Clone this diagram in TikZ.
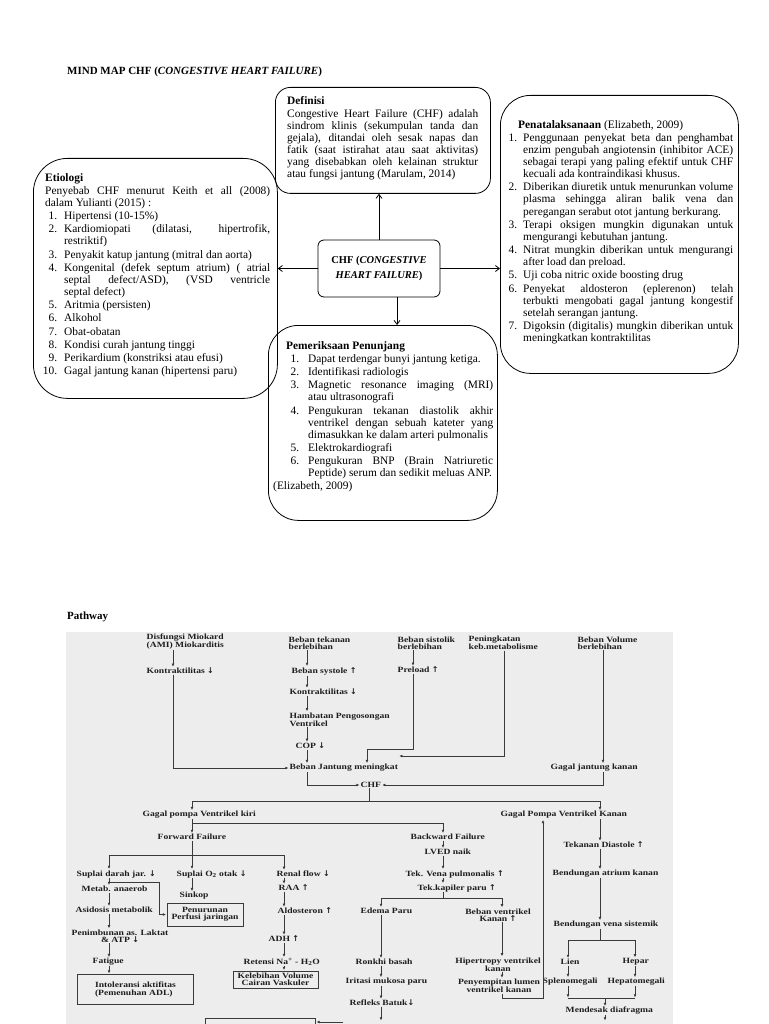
\documentclass[tikz,border=0pt]{standalone}
\usepackage{fontspec}
\setmainfont{Liberation Serif}
\newfontfamily\pwfont[FakeStretch=1.2]{Liberation Serif}
\newfontfamily\arrfont{DejaVu Sans}
\usetikzlibrary{arrows.meta}
\definecolor{pwgray}{HTML}{EDEDED}
\definecolor{pwink}{HTML}{1E1E1E}
\definecolor{pwline}{HTML}{3A3A3A}
\newcommand{\UA}{{\arrfont\bfseries ↑}}
\newcommand{\DA}{{\arrfont\bfseries ↓}}
\newcommand{\mmtext}{\fontsize{11.4}{12.1}\selectfont\parskip=1.1pt\tolerance=9999\hbadness=10000\hyphenpenalty=10000}
\newcommand{\mitem}[4][6pt]{\par\noindent\hangindent=#2\hangafter=1\makebox[#2][r]{#3\hspace{#1}}#4\par}
\begin{document}
\begin{tikzpicture}[x=1pt,y=-1pt,
  mbox/.style={draw, line width=0.8pt, rounded corners=#1, anchor=north west, inner sep=0pt},
  mbox/.default=30pt,
  mtxt/.style={anchor=north west, inner sep=0pt},
  marr/.style={line width=0.8pt, -{Straight Barb[length=4pt,width=6pt]}},
  ptxt/.style={font={\pwfont\bfseries\fontsize{8}{7.2}\selectfont}, text=pwink, inner sep=0.5pt, align=left},
  pw/.style={ptxt, anchor=west},
  pc/.style={ptxt, align=center},
  pbox/.style={ptxt, draw=pwline, line width=0.9pt, align=center},
  pl/.style={draw=pwline, line width=0.7pt},
  pa/.style={pl, -{Latex[length=3.2pt,width=2.8pt]}, shorten >=0.5pt},
  font=\fontsize{11}{12.1}\selectfont]
\useasboundingbox (0,0) rectangle (768,1024);
\fill[white] (0,0) rectangle (768,1024);

% ---------- Mind map ----------
\node[anchor=west, inner sep=0pt] (title) at (67,72) {\bfseries MIND MAP CHF (\textit{CONGESTIVE HEART FAILURE})};

\node[mbox=15pt, minimum width=215pt, minimum height=106pt] (def) at (275,87) {};
\node[mtxt] (defT) at (287,96) {\parbox{191pt}{\mmtext
\textbf{Definisi}\par
Congestive Heart Failure (CHF) adalah\linebreak sindrom klinis (sekumpulan tanda dan\linebreak gejala), ditandai oleh sesak napas dan\linebreak fatik (saat istirahat atau saat aktivitas)\linebreak yang disebabkan oleh kelainan struktur\linebreak atau fungsi jantung (Marulam, 2014)}};

\node[mbox=34pt, minimum width=244pt, minimum height=240pt] (eti) at (33,158) {};
\node[mtxt] (etiT) at (45,173) {\parbox{225pt}{\mmtext
\textbf{Etiologi}\par
Penyebab CHF menurut Keith et all (2008)\linebreak dalam Yulianti (2015) :\par
\mitem[7pt]{19pt}{1.}{Hipertensi (10-15\%)}
\mitem[7pt]{19pt}{2.}{Kardiomiopati (dilatasi, hipertrofik,\linebreak restriktif)}
\mitem[7pt]{19pt}{3.}{Penyakit katup jantung (mitral dan aorta)}
\mitem[7pt]{19pt}{4.}{Kongenital (defek septum atrium) ( atrial\linebreak septal defect/ASD), (VSD ventricle\linebreak septal defect)}
\mitem[7pt]{19pt}{5.}{Aritmia (persisten)}
\mitem[7pt]{19pt}{6.}{Alkohol}
\mitem[7pt]{19pt}{7.}{Obat-obatan}
\mitem[7pt]{19pt}{8.}{Kondisi curah jantung tinggi}
\mitem[7pt]{19pt}{9.}{Perikardium (konstriksi atau efusi)}
\mitem[7pt]{19pt}{10.}{Gagal jantung kanan (hipertensi paru)}}};

\node[mbox=30pt, minimum width=238pt, minimum height=278pt] (pen) at (500,95) {};
\node[mtxt] (penT) at (505,120) {\parbox{228pt}{\mmtext
\hspace*{13pt}\textbf{Penatalaksanaan} (Elizabeth, 2009)\par
\mitem{18pt}{1.}{Penggunaan penyekat beta dan penghambat\linebreak enzim pengubah angiotensin (inhibitor ACE)\linebreak sebagai terapi yang paling efektif untuk CHF\linebreak kecuali ada kontraindikasi khusus.}
\mitem{18pt}{2.}{Diberikan diuretik untuk menurunkan volume\linebreak plasma sehingga aliran balik vena dan\linebreak peregangan serabut otot jantung berkurang.}
\mitem{18pt}{3.}{Terapi oksigen mungkin digunakan untuk\linebreak mengurangi kebutuhan jantung.}
\mitem{18pt}{4.}{Nitrat mungkin diberikan untuk mengurangi\linebreak after load dan preload.}
\mitem{18pt}{5.}{Uji coba nitric oxide boosting drug}
\mitem{18pt}{6.}{Penyekat aldosteron (eplerenon) telah\linebreak terbukti mengobati gagal jantung kongestif\linebreak setelah serangan jantung.}
\mitem{18pt}{7.}{Digoksin (digitalis) mungkin diberikan untuk\linebreak meningkatkan kontraktilitas}}};

\node[mbox=30pt, minimum width=229pt, minimum height=195pt] (pem) at (268,325) {};
\node[mtxt] (pemT) at (273,341) {\parbox{220pt}{\mmtext
\hspace*{13pt}\textbf{Pemeriksaan Penunjang}\par
\mitem[9pt]{35pt}{1.}{Dapat terdengar bunyi jantung ketiga.}
\mitem[9pt]{35pt}{2.}{Identifikasi radiologis}
\mitem[9pt]{35pt}{3.}{Magnetic resonance imaging (MRI)\linebreak atau ultrasonografi}
\mitem[9pt]{35pt}{4.}{Pengukuran tekanan diastolik akhir\linebreak ventrikel dengan sebuah kateter yang\linebreak dimasukkan ke dalam arteri pulmonalis}
\mitem[9pt]{35pt}{5.}{Elektrokardiografi}
\mitem[9pt]{35pt}{6.}{Pengukuran BNP (Brain Natriuretic\linebreak Peptide) serum dan sedikit meluas ANP.}
(Elizabeth, 2009)}};

\node[draw, line width=0.8pt, rounded corners=6pt, minimum width=122pt, minimum height=57pt, align=center, font={\fontsize{10.5}{12.1}\selectfont\bfseries}] (chf) at (379,268.5) {CHF (\textit{CONGESTIVE}\\[3pt]\textit{HEART FAILURE})};

\draw[marr] (chf.north) -- (chf.north |- def.south);
\draw[marr] (chf.west) -- (chf.west -| eti.east);
\draw[marr] (chf.east) -- (chf.east -| pen.west);
\draw[marr] ([xshift=18pt]chf.south) -- ([xshift=18pt]chf.south |- pem.north);

% ---------- Pathway ----------
\node[anchor=west, inner sep=0pt] (pwtitle) at (67,617) {\bfseries Pathway};
\fill[pwgray] (66,632) rectangle (673,1024);
\begin{scope}
\clip (66,632) rectangle (673,1024);
\coordinate (cA) at (173,0);  \coordinate (cB) at (307,0);
\coordinate (cC) at (413,0);  \coordinate (cC2) at (367,0);
\coordinate (cD) at (504,0);  \coordinate (cE) at (603,0);
\coordinate (cF) at (369,0);  \coordinate (cG) at (192,0);
\coordinate (cH) at (109,0);  \coordinate (cI) at (284,0);
\coordinate (cJ) at (443,0);  \coordinate (cK) at (381,0);
\coordinate (cL) at (502,0);  \coordinate (cM) at (543,0);
\coordinate (cN) at (600,0);  \coordinate (cO) at (568,0);
\coordinate (cP) at (635,0);  \coordinate (cQ) at (605,0);
\coordinate (cR) at (159,0);
\coordinate (yP) at (0,749);  \coordinate (yQ) at (0,756);
\coordinate (yS) at (0,801);  \coordinate (yB) at (0,823);
\coordinate (yF) at (0,855);  \coordinate (yR) at (0,882);
\coordinate (yT) at (0,898);  \coordinate (yU) at (0,998);
\coordinate (yV) at (0,940);  \coordinate (yW) at (0,998);
\coordinate (yEnd) at (0,1021);

\node[pw] (pdis) at (146,641.5) {Disfungsi Miokard\\(AMI) Miokarditis};
\node[pw] (pkon1) at (146,671) {Kontraktilitas \DA};
\node[pw] (pbtek) at (288,643) {Beban tekanan\\berlebihan};
\node[pw] (pbsys) at (291,671) {Beban systole \UA};
\node[pw] (pkon2) at (289,692) {Kontraktilitas \DA};
\node[pw] (phamb) at (289,719.5) {Hambatan Pengosongan\\Ventrikel};
\node[pw] (pcop) at (295,746) {COP \DA};
\node[pw] (pbjm) at (289,768) {Beban Jantung meningkat};
\node[pw] (pchf) at (360,785) {CHF};
\node[pw] (pbsis) at (397,643) {Beban sistolik\\berlebihan};
\node[pw] (ppre) at (397,670) {Preload \UA};
\node[pw] (ppen) at (468,643) {Peningkatan\\keb.metabolisme};
\node[pw] (pbvol) at (577,643) {Beban Volume\\berlebihan};
\node[pw] (pgjk) at (550,768) {Gagal jantung kanan};
\node[pw] (pgpki) at (142,815) {Gagal pompa Ventrikel kiri};
\node[pw] (pff) at (157,837) {Forward Failure};
\node[pw] (psdj) at (76,874) {Suplai darah jar. \DA};
\node[pw] (pso2) at (176,874) {Suplai O\textsubscript{2} otak \DA};
\node[pw] (prf) at (276,874) {Renal flow \DA};
\node[pw] (pma) at (81,889) {Metab. anaerob};
\node[pw] (pam) at (75,910) {Asidosis metabolik};
\node[pc] (ppal) at (120,936) {Penimbunan as. Laktat\\\& ATP \DA};
\node[pw] (pfat) at (92,962) {Fatigue};
\node[pbox, align=left, minimum width=116pt, minimum height=30pt, anchor=north west] (pintol) at (77,974) {Intoleransi aktifitas\\(Pemenuhan ADL)};
\node[pw] (psink) at (179,896) {Sinkop};
\node[pbox, minimum width=76pt, minimum height=23pt] (pppj) at (205,914.5) {Penurunan\\Perfusi jaringan};
\node[pw] (praa) at (278,888) {RAA \UA};
\node[pw] (pald) at (277,911) {Aldosteron \UA};
\node[pw] (padh) at (268,939) {ADH \UA};
\node[pw] (pret) at (243,962) {Retensi Na\textsuperscript{+} - H\textsubscript{2}O};
\node[pbox, minimum width=85pt, minimum height=17pt] (pkvc) at (275.5,979.5) {Kelebihan Volume\\Cairan Vaskuler};
\node[pw] (pbf) at (410,837) {Backward Failure};
\node[pw] (plved) at (424,852) {LVED naik};
\node[pw] (ptvp) at (405,874) {Tek. Vena pulmonalis \UA};
\node[pw] (ptkp) at (417,888) {Tek.kapiler paru \UA};
\node[pw] (pep) at (360,911) {Edema Paru};
\node[pc] (pbvk) at (498,915) {Beban ventrikel\\Kanan \UA};
\node[pw] (prb) at (355,962) {Ronkhi basah};
\node[pw] (pimp) at (345,982) {Iritasi mukosa paru};
\node[pw] (prbk) at (349,1003) {Refleks Batuk\DA};
\node[pc] (phvk) at (498,964.5) {Hipertropy ventrikel\\kanan};
\node[pc] (pplvk) at (499,986) {Penyempitan lumen\\ventrikel kanan};
\node[pw] (pgpka) at (500,815) {Gagal Pompa Ventrikel Kanan};
\node[pw] (ptd) at (563,845) {Tekanan Diastole \UA};
\node[pw] (pbak) at (552,874) {Bendungan atrium kanan};
\node[pw] (pbvs) at (553,925) {Bendungan vena sistemik};
\node[pw] (plien) at (560,962) {Lien};
\node[pw] (phep) at (622,962) {Hepar};
\node[pw] (pspl) at (542,982) {Splenomegali};
\node[pw] (phpm) at (607,982) {Hepatomegali};
\node[pw] (pmd) at (565,1011) {Mendesak diafragma};
\node[pbox, minimum width=110pt, minimum height=20pt, anchor=north west] (pbot) at (205,1018) {};
\coordinate (pfrag) at (343,1022);

% connectors
\draw[pa] (pdis.south -| cA) -- (pkon1.north -| cA);
\draw[pa] (pkon1.south -| cA) |- (pbjm.west);
\draw[pa] (pbtek.south -| cB) -- (pbsys.north -| cB);
\draw[pa] (pbsys.south -| cB) -- (pkon2.north -| cB);
\draw[pa] (pkon2.south -| cB) -- (phamb.north -| cB);
\draw[pa] (phamb.south -| cB) -- (pcop.north -| cB);
\draw[pa] (pcop.south -| cB) -- (pbjm.north -| cB);
\draw[pa] (pbjm.south -| cB) |- (pchf.west);
\draw[pa] (pbsis.south -| cC) -- (ppre.north -| cC);
\draw[pa] (ppre.south -| cC) -- (cC |- yP) -- (cC2 |- yP) -- (pbjm.north -| cC2);
\draw[pa] (ppen.south -| cD) -- (cD |- yQ) -- (pbjm.east |- yQ);
\draw[pa] (pbvol.south -| cE) -- (pgjk.north -| cE);
\draw[pa] (pgjk.south -| cE) |- (pchf.east);
\draw[pl] (pchf.south -| cF) -- (cF |- yS);
\draw[pl] (cG |- yS) -- (cN |- yS);
\draw[pa] (cG |- yS) -- (pgpki.north -| cG);
\draw[pa] (cN |- yS) -- (pgpka.north -| cN);
\draw[pa] (pgpki.south -| cG) -- (pff.north -| cG);
\draw[pa] (cG |- yB) -| (pbf.north -| cJ);
\draw[pl] (pff.south -| cG) -- (cG |- yF);
\draw[pl] (cH |- yF) -- (cI |- yF);
\draw[pa] (cH |- yF) -- (psdj.north -| cH);
\draw[pa] (cG |- yF) -- (pso2.north -| cG);
\draw[pa] (cI |- yF) -- (prf.north -| cI);
\draw[pa] (psdj.south -| cH) -- (pma.north -| cH);
\draw[pa] (cH |- yR) -- (cR |- yR) |- (pppj.west);
\draw[pa] (pma.south -| cH) -- (pam.north -| cH);
\draw[pa] (pam.south -| cH) -- (ppal.north -| cH);
\draw[pa] (ppal.south -| cH) -- (pfat.north -| cH);
\draw[pa] (pfat.south -| cH) -- (pintol.north -| cH);
\draw[pa] (pso2.south -| cG) -- (psink.north -| cG);
\draw[pa] (prf.south -| cI) -- (praa.north -| cI);
\draw[pa] (praa.south -| cI) -- (pald.north -| cI);
\draw[pa] (pald.south -| cI) -- (padh.north -| cI);
\draw[pa] (padh.south -| cI) -- (pret.north -| cI);
\draw[pa] (pret.south -| cI) -- (pkvc.north -| cI);
\draw[pa] (pbf.south -| cJ) -- (plved.north -| cJ);
\draw[pa] (plved.south -| cJ) -- (ptvp.north -| cJ);
\draw[pa] (ptvp.south -| cJ) -- (ptkp.north -| cJ);
\draw[pl] (ptkp.south -| cJ) -- (cJ |- yT);
\draw[pl] (cK |- yT) -- (cL |- yT);
\draw[pa] (cK |- yT) -- (pep.north -| cK);
\draw[pa] (cL |- yT) -- (pbvk.north -| cL);
\draw[pa] (pep.south -| cK) -- (prb.north -| cK);
\draw[pa] (prb.south -| cK) -- (pimp.north -| cK);
\draw[pa] (pimp.south -| cK) -- (prbk.north -| cK);
\draw[pa] (prbk.south -| cK) -- (cK |- yEnd);
\draw[pa] (pbvk.south -| cL) -- (phvk.north -| cL);
\draw[pa] (phvk.south -| cL) -- (pplvk.north -| cL);
\draw[pa] (pplvk.south -| cL) -- (cL |- yU) -- (cM |- yU) -- (pgpka.south -| cM);
\draw[pa] (pgpka.south -| cN) -- (ptd.north -| cN);
\draw[pa] (ptd.south -| cN) -- (pbak.north -| cN);
\draw[pa] (pbak.south -| cN) -- (pbvs.north -| cN);
\draw[pl] (pbvs.south -| cN) -- (cN |- yV);
\draw[pl] (cO |- yV) -- (cP |- yV);
\draw[pa] (cO |- yV) -- (plien.north -| cO);
\draw[pa] (cP |- yV) -- (phep.north -| cP);
\draw[pa] (plien.south -| cO) -- (pspl.north -| cO);
\draw[pa] (phep.south -| cP) -- (phpm.north -| cP);
\draw[pa] (pspl.south -| cO) -- (cO |- yW);
\draw[pa] (phpm.south -| cP) -- (cP |- yW);
\draw[pl] (cO |- yW) -- (cP |- yW);
\draw[pa] (cQ |- yW) -- (pmd.north -| cQ);
\draw[pa] (pmd.south -| cQ) -- (cQ |- yEnd);
\draw[pa] (pfrag) -- (pfrag -| pbot.east);
\end{scope}
\end{tikzpicture}
\end{document}
